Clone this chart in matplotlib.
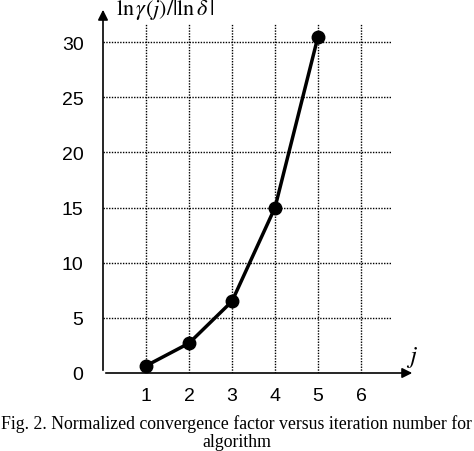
import matplotlib
matplotlib.use("Agg")
import matplotlib.pyplot as plt

iterations = [1, 2, 3, 4, 5]
factor = [0.65, 2.7, 6.5, 15.0, 30.5]
xticks = [1, 2, 3, 4, 5, 6]
yticks = [0, 5, 10, 15, 20, 25, 30]

plt.rcParams['font.family'] = ['Liberation Sans', 'DejaVu Sans']
plt.rcParams['mathtext.fontset'] = 'stix'
W, H = 474, 452
fig = plt.figure(figsize=(W/100, H/100), dpi=100)
ax = fig.add_axes([103/W, 78/H, 312/W, 366/H])
ax.set_xlim(0, 312/43)
ax.set_ylim(0, 366/11.03)
for s in ax.spines.values():
    s.set_visible(False)
for x in xticks:
    ax.plot([x, x], [0, 31.6], color='black', lw=1, ls=(0, (1, 1)), zorder=1)
for y in yticks[1:]:
    ax.plot([0, 6.7], [y, y], color='black', lw=1, ls=(0, (1, 1)), zorder=1)
ax.annotate('', xy=(312/43, 0), xytext=(0, 0),
            arrowprops=dict(arrowstyle='-|>', color='black', lw=1.2, mutation_scale=15))
ax.annotate('', xy=(0, 366/11.03), xytext=(0, 0),
            arrowprops=dict(arrowstyle='-|>', color='black', lw=1.2, mutation_scale=15))
ax.plot(iterations, factor, color='black', lw=2.5, marker='o', ms=9, zorder=3)
ax.set_xticks(xticks)
ax.set_yticks(yticks)
ax.tick_params(length=0, labelsize=14, pad=10)
ax.tick_params(axis='y', pad=14)
ax.text(7.05, 0.4, '$j$', fontsize=18, ha='left', va='bottom')
ax.text(0.3, 31.9, r'$\ln\gamma(j)/|\ln\delta\,|$', fontsize=16, ha='left', va='bottom')
fig.text(0.003, 1-424/H, 'Fig. 2. Normalized convergence factor versus iteration number for the',
         fontsize=12.8, ha='left', va='center', family='Liberation Serif')
fig.text(0.5, 1-443/H, 'algorithm', fontsize=12.8, ha='center', va='center',
         family='Liberation Serif')
fig.savefig('out.png', dpi=100)
